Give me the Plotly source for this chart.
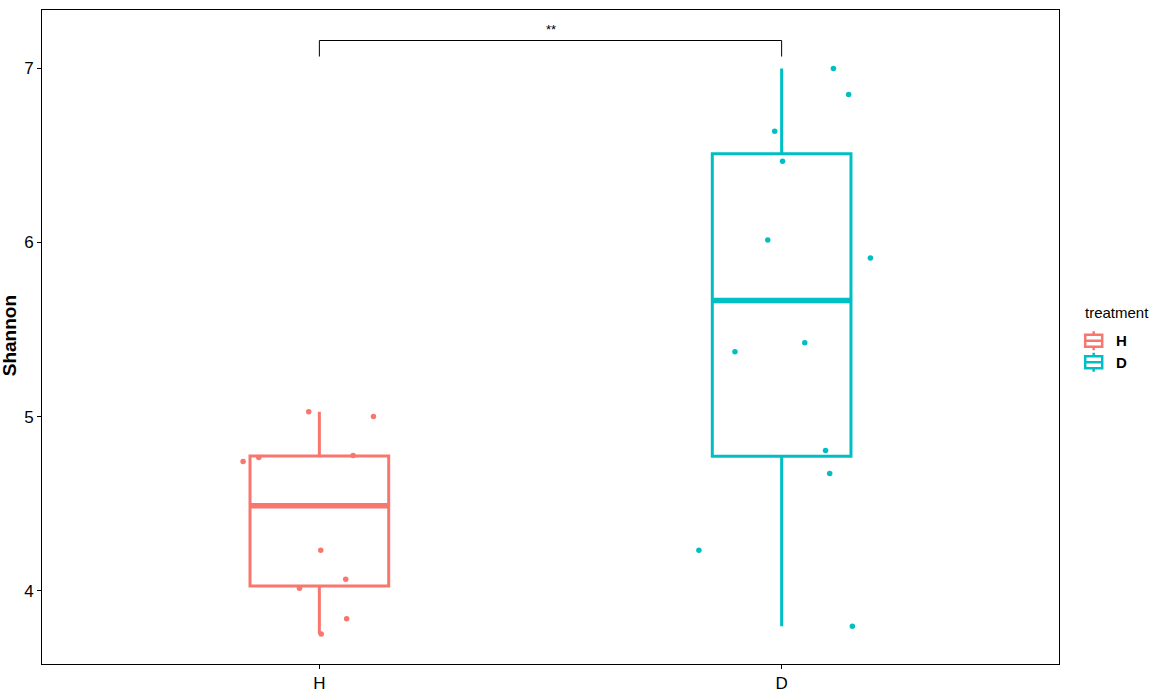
import numpy as np
import plotly.graph_objects as go

# ---------------- data ----------------
groups = ["H", "D"]
group_pos = [1, 2]
colors = ["#F8766D", "#00BFC4"]

h_values = [5.029, 5.001, 4.743, 4.766, 4.777, 4.234, 4.068, 4.016, 3.840, 3.753]
h_jitter = [-0.023, 0.117, -0.165, -0.131, 0.073, 0.003, 0.057, -0.043, 0.059, 0.004]

d_values = [6.998, 6.849, 6.638, 6.466, 6.014, 5.911, 5.373, 5.424, 4.806, 4.674, 4.234, 3.798]
d_jitter = [0.112, 0.145, -0.015, 0.002, -0.030, 0.192, -0.101, 0.050, 0.095, 0.104, -0.179, 0.153]

y_ticks = [4, 5, 6, 7]
sig_label = "**"
sig_y = 7.159          # bracket height
sig_tip = 0.092        # bracket tip length
legend_title = "treatment"
y_title = "Shannon"

values = [h_values, d_values]
jitters = [h_jitter, d_jitter]

FONT = "Liberation Sans, Arial, sans-serif"
BOX_W = 0.3

fig = go.Figure()


def box_stats(v):
    v = np.asarray(v, dtype=float)
    q1, med, q3 = np.percentile(v, [25, 50, 75])
    iqr = q3 - q1
    lo = v[v >= q1 - 1.5 * iqr].min()
    hi = v[v <= q3 + 1.5 * iqr].max()
    return q1, med, q3, lo, hi


for g, pos, col, v, jit in zip(groups, group_pos, colors, values, jitters):
    q1, med, q3, lo, hi = box_stats(v)
    fig.add_trace(go.Box(
        x=[pos], q1=[q1], median=[med], q3=[q3],
        lowerfence=[lo], upperfence=[hi],
        width=BOX_W, whiskerwidth=0,
        line=dict(color=col, width=3), fillcolor="rgba(255,255,255,0)",
        boxpoints=False, showlegend=False, name=g,
    ))
    # thicker median line (ggplot fatten)
    fig.add_trace(go.Scatter(
        x=[pos - BOX_W / 2, pos + BOX_W / 2], y=[med, med], mode="lines",
        line=dict(color=col, width=5.5), showlegend=False, hoverinfo="skip",
    ))
    fig.add_trace(go.Scatter(
        x=[pos + j for j in jit], y=v, mode="markers",
        marker=dict(color=col, size=5.5, line=dict(width=0)),
        showlegend=False, name=g,
    ))

# significance bracket
x1, x2 = group_pos
fig.add_trace(go.Scatter(
    x=[x1, x1, x2, x2], y=[sig_y - sig_tip, sig_y, sig_y, sig_y - sig_tip],
    mode="lines", line=dict(color="black", width=1), showlegend=False, hoverinfo="skip",
))
fig.add_annotation(x=(x1 + x2) / 2, y=sig_y, text=sig_label, showarrow=False,
                   yanchor="bottom", yshift=2, font=dict(family=FONT, size=13, color="black"))

# ---------------- layout geometry (pixels) ----------------
W, H = 1150, 695
L, R, T, B = 42, 1059.3, 9.5, 664


def px_x(px):
    return (px - L) / (R - L)


def px_y(py):
    return (B - py) / (B - T)


# y title
fig.add_annotation(xref="paper", yref="paper", x=px_x(9.5), y=px_y(335.5), text="<b>%s</b>" % y_title,
                   textangle=-90, showarrow=False, xanchor="center", yanchor="middle",
                   font=dict(family=FONT, size=19, color="black"))

# custom ggplot-style legend
fig.add_annotation(xref="paper", yref="paper", x=px_x(1083), y=px_y(312), text=legend_title,
                   showarrow=False, xanchor="left", yanchor="middle",
                   font=dict(family=FONT, size=15, color="black"))
for i, (g, col) in enumerate(zip(groups, colors)):
    cy = 340.5 + i * 21.5
    cx = 1094
    fig.add_shape(type="rect", xref="paper", yref="paper",
                  x0=px_x(1085.5), x1=px_x(1102.5), y0=px_y(cy - 6), y1=px_y(cy + 6),
                  line=dict(color=col, width=2.5), fillcolor="rgba(0,0,0,0)")
    fig.add_shape(type="line", xref="paper", yref="paper",
                  x0=px_x(1085.5), x1=px_x(1102.5), y0=px_y(cy), y1=px_y(cy),
                  line=dict(color=col, width=2.5))
    for a, b in [(cy - 9.5, cy - 6), (cy + 6, cy + 9.5)]:
        fig.add_shape(type="line", xref="paper", yref="paper",
                      x0=px_x(cx), x1=px_x(cx), y0=px_y(a), y1=px_y(b),
                      line=dict(color=col, width=2.5))
    fig.add_annotation(xref="paper", yref="paper", x=px_x(1114), y=px_y(cy), text="<b>%s</b>" % g,
                       showarrow=False, xanchor="left", yanchor="middle",
                       font=dict(family=FONT, size=15, color="black"))

axis_common = dict(showgrid=False, zeroline=False, showline=True, mirror=True,
                   linecolor="black", linewidth=1, ticks="outside", ticklen=4,
                   tickwidth=1, tickcolor="black",
                   tickfont=dict(family=FONT, size=17, color="black"))

fig.update_layout(
    width=W, height=H,
    margin=dict(l=L, r=W - R, t=T, b=H - B, autoexpand=False),
    paper_bgcolor="white", plot_bgcolor="white",
    showlegend=False,
    xaxis=dict(range=[0.4, 2.6], tickvals=group_pos, ticktext=groups, **axis_common),
    yaxis=dict(range=[3.581, 7.334], tickvals=y_ticks, **axis_common),
    font=dict(family=FONT),
)

fig.write_html("out.html", config={"displayModeBar": False},
               post_script="document.body.style.margin='0';document.body.style.overflow='hidden';")
